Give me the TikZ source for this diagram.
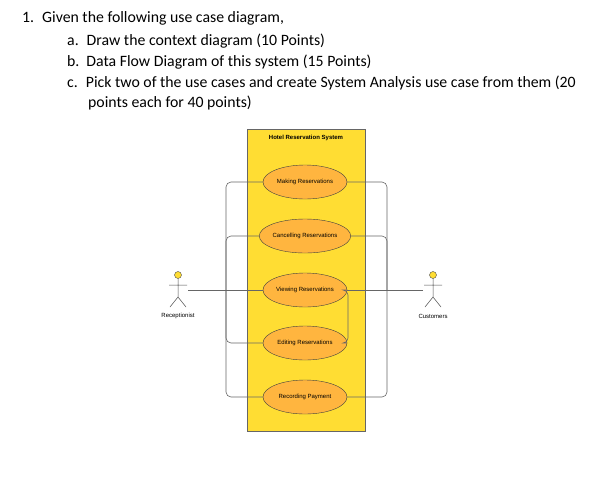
\documentclass[tikz,border=0pt]{standalone}
\usepackage{fontspec}
\usetikzlibrary{shapes.geometric}
\setmainfont{Carlito}
\newfontfamily\arialf{Liberation Sans}
\definecolor{sysfill}{HTML}{FFDD33}
\definecolor{ucfill}{HTML}{FFB53F}
\begin{document}
\begin{tikzpicture}[x=1pt,y=-1pt,
  uc/.style={ellipse,draw=black!75,fill=ucfill,minimum width=84pt,minimum height=34pt,inner sep=0pt,font=\arialf\fontsize{6}{7}\selectfont},
  conn/.style={draw=black!60,line width=0.6pt,rounded corners=5pt},
  txt/.style={anchor=base west,inner sep=0pt,font=\fontsize{15.8}{18}\selectfont}]
\useasboundingbox (0,0) rectangle (616,480);
\node[txt] (l1) at (22,22) {1.\hspace{8pt}Given the following use case diagram,};
\node[txt] (la) at (67,45) {a.\hspace{8pt}Draw the context diagram (10 Points)};
\node[txt] (lb) at (67,66) {b.\hspace{7pt}Data Flow Diagram of this system (15 Points)};
\node[txt] (lc) at (67,87) {c.\hspace{8pt}Pick two of the use cases and create System Analysis use case from them (20};
\node[txt] (ld) at (88,107) {points each for 40 points)};
\node[draw=black!60,fill=sysfill,minimum width=118pt,minimum height=302pt,inner sep=0pt] (sys) at (306,280) {};
\node[font=\arialf\bfseries\fontsize{6}{7}\selectfont] (title) at (306,138) {Hotel Reservation System};
\node[uc] (u1) at (305,182) {Making Reservations};
\node[uc] (u2) at (305,236) {Cancelling Reservations};
\node[uc] (u3) at (305,290) {Viewing Reservations};
\node[uc] (u4) at (305,343) {Editing Reservations};
\node[uc] (u5) at (305,397) {Recording Payment};
% actors
\foreach \n/\x/\lab in {ra/178/Receptionist, ca/433/Customers}{
  \node[circle,draw=black!70,fill=sysfill,minimum size=7pt,inner sep=0pt] (\n h) at (\x,275) {};
  \draw[black!70,line width=0.5pt] (\n h.south) -- (\x,297) coordinate (\n f) (\x-9,285) -- (\x+9,285) (\x-8,307) -- (\n f) -- (\x+8,307);
  \node[font=\arialf\fontsize{6}{7}\selectfont] (\n l) at (\x,316) {\lab};
}
\coordinate (rj) at (226,290);
\coordinate (cj) at (387,290);
\draw[conn] (188,290) -- (rj);
\draw[conn] (u1.west) -- (226,182) -- (rj);
\draw[conn] (u2.west) -- (226,236) -- (rj);
\draw[conn] (u3.west) -- (rj);
\draw[conn] (u4.west) -- (226,343) -- (rj);
\draw[conn] (u5.west) -- (226,397) -- (rj);
\draw[conn] (423,290) -- (cj);
\draw[conn] (u1.east) -- (387,182) -- (cj);
\draw[conn] (u2.east) -- (387,236) -- (cj);
\draw[conn] (u3.east) -- (cj);
\draw[conn] (u5.east) -- (387,397) -- (cj);
\draw[conn] (u3.east) -- (348,290) -- (348,343) -- (u4.east);
\end{tikzpicture}
\end{document}
